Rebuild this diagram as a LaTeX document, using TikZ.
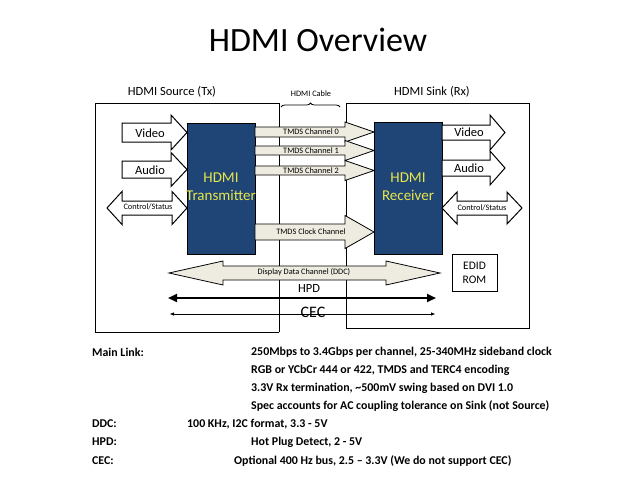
\documentclass[tikz,border=0pt]{standalone}
\usepackage{fontspec}
\setmainfont{Carlito}
\usetikzlibrary{arrows.meta,decorations.pathreplacing}
\definecolor{blk}{HTML}{1F4577}
\definecolor{ylw}{HTML}{E8E64A}
\definecolor{pale}{HTML}{EEECE1}
\newcommand{\myra}[7]{% x1 x2 yc bh hh hx fill
  \draw[#7] (#1,#3-#4) -- (#6,#3-#4) -- (#6,#3-#5) -- (#2,#3) -- (#6,#3+#5) -- (#6,#3+#4) -- (#1,#3+#4) -- cycle;}
\newcommand{\myda}[7]{% x1 x2 yc bh hh headlen fill
  \draw[#7] (#1,#3) -- (#1+#6,#3-#5) -- (#1+#6,#3-#4) -- (#2-#6,#3-#4) -- (#2-#6,#3-#5) -- (#2,#3) -- (#2-#6,#3+#5) -- (#2-#6,#3+#4) -- (#1+#6,#3+#4) -- (#1+#6,#3+#5) -- cycle;}
\begin{document}
\begin{tikzpicture}[x=1pt,y=-1pt,
  wa/.style={draw=black,fill=white,line width=1pt},
  ga/.style={draw=black,fill=pale,line width=0.8pt},
  lab/.style={font=\fontsize{12.5}{13}\selectfont,inner sep=0pt},
  sm/.style={font=\fontsize{8.3}{9}\selectfont,inner sep=0pt},
  chip/.style={draw=black,fill=blk,line width=0.8pt,inner sep=0pt},
  ct/.style={text=ylw,font=\fontsize{15}{18}\selectfont,align=center},
  bt/.style={font=\bfseries\fontsize{11.9}{13}\selectfont,anchor=west,inner sep=0pt}]
\useasboundingbox (0,0) rectangle (638,479);
\node[font=\fontsize{34}{36}\selectfont] (title) at (318,40) {HDMI Overview};
% boxes
\draw[line width=1pt] (279,332) -- (95,332) -- (95,103) -- (279,103) -- (279,332);
\draw[line width=1pt] (346,103) rectangle (529,328);
\node[lab] (src) at (172,92) {HDMI Source (Tx)};
\node[lab] (snk) at (432,92) {HDMI Sink (Rx)};
\node[sm] (cab) at (311,94) {HDMI Cable};
\draw[decorate,decoration={brace,amplitude=4pt},line width=0.8pt] (281,107) -- (340,107);
% chips
\node[chip,minimum width=68pt,minimum height=131pt] (tx) at (221,188.5) {};
\node[chip,minimum width=68pt,minimum height=132pt] (rx) at (408,188) {};
\node[ct] (txt) at (221,187) {HDMI\\Transmitter};
\node[ct] (rxt) at (408,187) {HDMI\\Receiver};
% inputs
\myra{122}{187}{132.5}{9.5}{17.5}{171}{wa}
\myra{122}{187}{169.5}{8.5}{17}{171}{wa}
\myda{107}{187}{208}{7}{16.5}{15}{wa}
\node[lab] (vin) at (150,133) {Video};
\node[lab] (ain) at (150,170) {Audio};
\node[sm] (csin) at (148,207) {Control/Status};
% outputs
\myra{442}{505}{132.5}{7.5}{17.5}{490}{wa}
\myra{442}{505}{168}{8}{17}{490}{wa}
\myda{442}{522}{208}{7}{16}{15}{wa}
\node[lab] (vout) at (469,132) {Video};
\node[lab] (aout) at (469,168) {Audio};
\node[sm] (csout) at (482,208) {Control/Status};
% TMDS
\myra{255}{374}{132}{5}{10}{345}{ga}
\myra{255}{374}{150.5}{4.5}{10}{345}{ga}
\myra{255}{374}{170.5}{4.5}{10}{345}{ga}
\myra{255}{374}{232}{8}{16.5}{345}{ga}
\node[sm] (c0) at (311,131.5) {TMDS Channel 0};
\node[sm] (c1) at (311,151) {TMDS Channel 1};
\node[sm] (c2) at (311,171) {TMDS Channel 2};
\node[sm] (ck) at (311,232) {TMDS Clock Channel};
% DDC
\myda{169}{440}{273}{7}{12}{54}{ga}
\node[sm] (ddc) at (304,272) {Display Data Channel (DDC)};
% HPD, CEC
\node[lab] (hpd) at (309,288) {HPD};
\coordinate (h1) at (168,298); \coordinate (h2) at (436,298);
\draw[line width=2.2pt,{Triangle[length=9pt,width=8pt]}-{Triangle[length=9pt,width=8pt]}] (h1) -- (h2);
\node[font=\fontsize{16}{17}\selectfont,inner sep=0pt] (cec) at (313,312) {CEC};
\coordinate (e1) at (170,314); \coordinate (e2) at (435,314);
\draw[line width=0.8pt,{Triangle[length=4pt,width=3pt]}-{Triangle[length=4pt,width=3pt]}] (e1) -- (e2);
% EDID
\node[draw=black,line width=1pt,minimum width=45pt,minimum height=37pt,align=center,font=\fontsize{11.5}{14}\selectfont] (edid) at (474.5,272.5) {EDID\\ROM};
% bottom text
\node[bt] (l1) at (92,352) {Main Link:};
\node[bt] (t1) at (251,352) {250Mbps to 3.4Gbps per channel, 25-340MHz sideband clock};
\node[bt] (t2) at (251,370) {RGB or YCbCr 444 or 422, TMDS and TERC4 encoding};
\node[bt] (t3) at (251,388) {3.3V Rx termination, \textasciitilde500mV swing based on DVI 1.0};
\node[bt] (t4) at (251,406) {Spec accounts for AC coupling tolerance on Sink (not Source)};
\node[bt] (l5) at (92,424) {DDC:};
\node[bt] (t5) at (187,424) {100 KHz, I2C format, 3.3 - 5V};
\node[bt] (l6) at (92,442) {HPD:};
\node[bt] (t6) at (251,442) {Hot Plug Detect, 2 - 5V};
\node[bt] (l7) at (92,461) {CEC:};
\node[bt] (t7) at (234,461) {Optional 400 Hz bus, 2.5 – 3.3V (We do not support CEC)};
\end{tikzpicture}
\end{document}
